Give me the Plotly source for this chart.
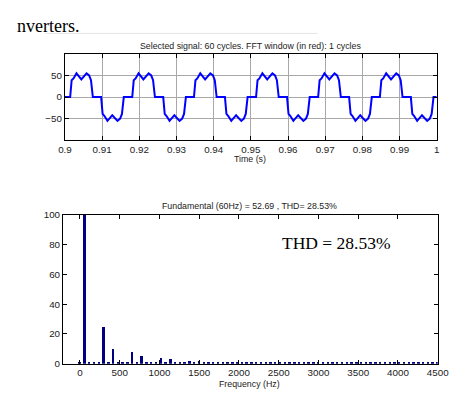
import plotly.graph_objects as go

# ---------------- data ----------------
# waveform: start time of each positive half-cycle (s)
cycle_starts = [0.9014, 0.9181, 0.9347, 0.9514, 0.9681, 0.9847]
half_period = 0.00833
# one lobe of the stepped waveform: time offset from lobe start (s) and level
lobe_dt = [0.0, 0.0004, 0.0009, 0.0017, 0.0030, 0.0044, 0.0051, 0.0056, 0.0061]
lobe_pos = [0, 39, 43, 55, 41, 55, 50, 39, 0]
lobe_neg = [0, -39, -44, -55, -42, -55, -50, -39, 0]
t_begin, t_end = 0.9, 1.0

# harmonic spectrum (% of fundamental), harmonic order 0..75, 60 Hz resolution
f_fund = 60
harm_mag = [
    0.7, 100, 0.6, 0.6, 0.6, 24.6, 0.6, 10.0, 0.6, 0.6,   # 0-9
    0.6, 7.7, 0.6, 4.9, 0.6, 0.6, 0.6, 3.7, 0.6, 2.8,     # 10-19
    0.6, 0.6, 0.6, 2.0, 0.6, 1.6, 0.6, 0.6, 0.6, 1.2,     # 20-29
    0.6, 0.9, 0.6, 0.6, 0.6, 0.8, 0.6, 0.8, 0.6, 0.6,     # 30-39
    0.6, 0.7, 0.6, 0.6, 0.6, 0.6, 0.6, 0.9, 0.6, 0.6,     # 40-49
    0.6, 0.6, 0.6, 0.6, 0.6, 0.6, 0.6, 0.6, 0.6, 0.6,     # 50-59
    0.6, 0.6, 0.6, 0.6, 0.6, 0.6, 0.6, 0.6, 0.6, 0.6,     # 60-69
    0.6, 0.6, 0.6, 0.6, 0.6, 0.6,                         # 70-75
]

top_title = "Selected signal: 60 cycles. FFT window (in red): 1 cycles"
bot_title = "Fundamental (60Hz) = 52.69 , THD= 28.53%"
thd_text = "THD = 28.53%"
x1_ticks = [0.9, 0.91, 0.92, 0.93, 0.94, 0.95, 0.96, 0.97, 0.98, 0.99, 1.0]
x1_labels = ["0.9", "0.91", "0.92", "0.93", "0.94", "0.95", "0.96", "0.97", "0.98", "0.99", "1"]
y1_ticks = [-50, 0, 50]
x2_ticks = [0, 500, 1000, 1500, 2000, 2500, 3000, 3500, 4000, 4500]
y2_ticks = [0, 20, 40, 60, 80, 100]

# ---------------- build traces ----------------
t_vals, v_vals = [t_begin], [0]
for s in cycle_starts:
    for dt, v in zip(lobe_dt, lobe_pos):
        t_vals.append(s + dt); v_vals.append(v)
    for dt, v in zip(lobe_dt, lobe_neg):
        t_vals.append(s + half_period + dt); v_vals.append(v)
t_vals.append(t_end); v_vals.append(0)

freqs = [h * f_fund for h in range(len(harm_mag))]

# the page adds an 8px body margin around the figure
PAD = 8
W, H = 474 - 2 * PAD, 399 - 2 * PAD
def px(x): return (x - PAD) / W
def py(y): return 1 - (y - PAD) / H

fig = go.Figure()
fig.add_trace(go.Scatter(x=t_vals, y=v_vals, mode="lines",
                         line=dict(color="#0000ff", width=2),
                         xaxis="x", yaxis="y", showlegend=False))
fig.add_trace(go.Bar(x=freqs, y=harm_mag, width=24,
                     marker=dict(color="#000080", line=dict(width=0)),
                     xaxis="x2", yaxis="y2", showlegend=False))

tick_font = dict(family="Liberation Sans, Arial, sans-serif", size=9.8, color="#222")
common = dict(showline=True, linecolor="black", linewidth=1, mirror="ticks",
              ticks="inside", ticklen=4, tickcolor="black", tickwidth=1,
              tickfont=tick_font, zeroline=False)

fig.update_layout(
    width=W, height=H, margin=dict(l=0, r=0, t=0, b=0), autosize=False,
    paper_bgcolor="white", plot_bgcolor="white",
    xaxis=dict(domain=[px(60), px(447)], range=[t_begin, t_end], anchor="y",
               tickvals=x1_ticks, ticktext=x1_labels, showgrid=True,
               gridcolor="#a8a8a8", gridwidth=1, **common),
    yaxis=dict(domain=[py(138), py(49)], range=[-100, 100], anchor="x",
               tickvals=y1_ticks, showgrid=True, gridcolor="#a8a8a8", gridwidth=1,
               **common),
    xaxis2=dict(domain=[px(58), px(448)], range=[-213, 4500], anchor="y2",
                tickvals=x2_ticks, showgrid=False, **common),
    yaxis2=dict(domain=[py(368), py(215)], range=[0, 100], anchor="x2",
                tickvals=y2_ticks, showgrid=False, **common),
    bargap=0,
)

title_font = dict(family="Liberation Sans, Arial, sans-serif", size=8.8, color="#222")
fig.add_annotation(x=px(253), y=py(41), xref="paper", yref="paper", text=top_title,
                   showarrow=False, font=title_font, xanchor="center", yanchor="middle")
fig.add_annotation(x=px(253), y=py(157), xref="paper", yref="paper", text="Time (s)",
                   showarrow=False, font=title_font, xanchor="center", yanchor="middle")
fig.add_annotation(x=px(252), y=py(206), xref="paper", yref="paper", text=bot_title,
                   showarrow=False, font=title_font, xanchor="center", yanchor="middle")
fig.add_annotation(x=px(252), y=py(381.5), xref="paper", yref="paper", text="Frequency (Hz)",
                   showarrow=False, font=title_font, xanchor="center", yanchor="top")
fig.add_annotation(x=px(284), y=py(244), xref="paper", yref="paper", text=thd_text,
                   showarrow=False, xanchor="left", yanchor="middle",
                   font=dict(family="Liberation Serif, Times New Roman, serif", size=17.5, color="black"))
fig.add_annotation(x=0, y=1, xref="paper", yref="paper", text="nverters.",
                   showarrow=False, xanchor="left", yanchor="top",
                   font=dict(family="Liberation Serif, Times New Roman, serif", size=18, color="black"))
fig.add_shape(type="line", xref="paper", yref="paper", x0=px(40), x1=px(323),
              y0=py(28), y1=py(28), line=dict(color="#e6e6e6", width=1))

fig.write_html("out.html", config={"displayModeBar": False})
